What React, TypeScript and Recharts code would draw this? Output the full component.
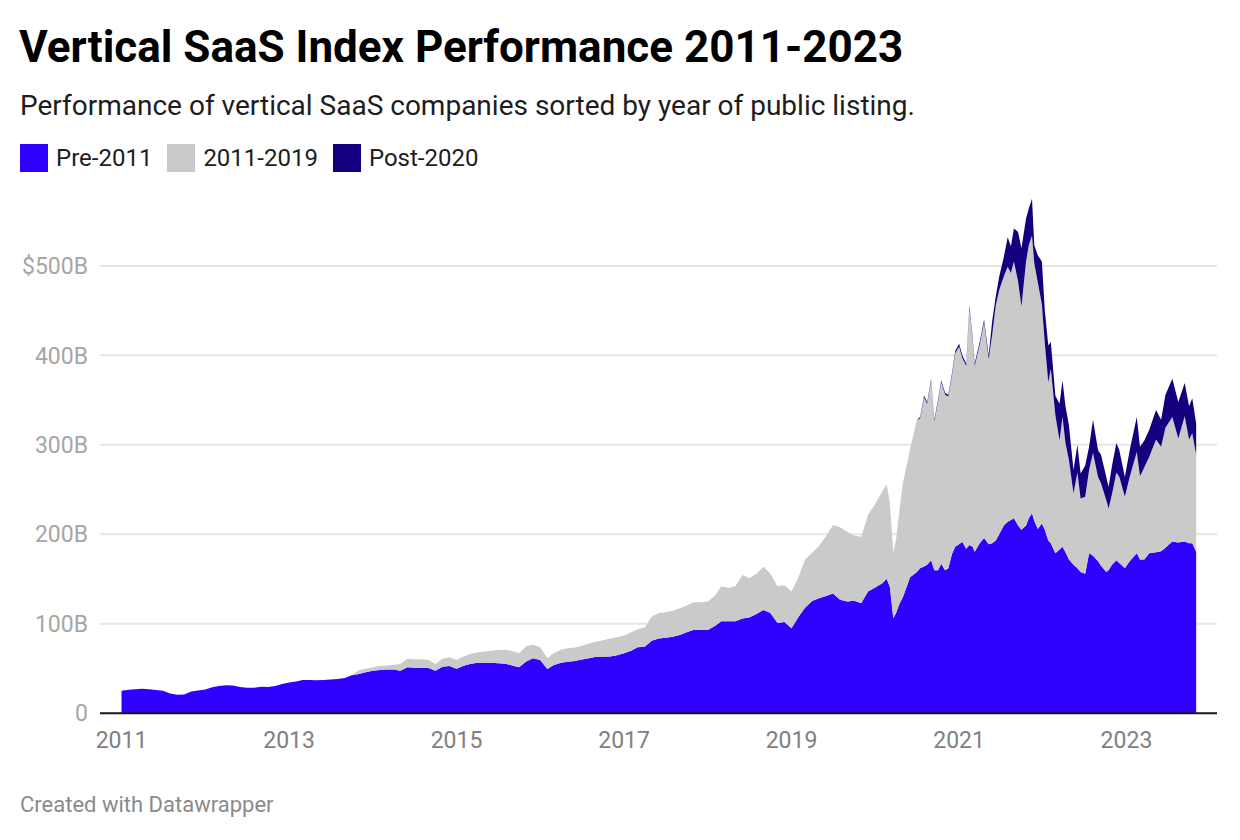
import { AreaChart, Area, XAxis, YAxis, CartesianGrid, ReferenceLine } from 'recharts';

// sample dates
const dates = [
  '2011-01-01', '2011-02-01', '2011-03-01', '2011-04-01', '2011-05-01', '2011-06-01',
  '2011-07-01', '2011-08-01', '2011-09-01', '2011-10-01', '2011-11-01', '2011-12-01',
  '2012-01-01', '2012-02-01', '2012-03-01', '2012-04-01', '2012-05-01', '2012-06-01',
  '2012-07-01', '2012-08-01', '2012-09-01', '2012-10-01', '2012-11-01', '2012-12-01',
  '2013-01-01', '2013-02-01', '2013-03-01', '2013-04-01', '2013-05-01', '2013-06-01',
  '2013-07-01', '2013-08-01', '2013-09-01', '2013-10-01', '2013-11-01', '2013-12-01',
  '2014-01-01', '2014-02-01', '2014-03-01', '2014-04-01', '2014-05-01', '2014-06-01',
  '2014-07-01', '2014-08-01', '2014-09-01', '2014-10-01', '2014-11-01', '2014-12-01',
  '2015-01-01', '2015-02-01', '2015-03-01', '2015-04-01', '2015-05-01', '2015-06-01',
  '2015-07-01', '2015-08-01', '2015-09-01', '2015-10-01', '2015-11-01', '2015-12-01',
  '2016-01-01', '2016-02-01', '2016-03-01', '2016-04-01', '2016-05-01', '2016-06-01',
  '2016-07-01', '2016-08-01', '2016-09-01', '2016-10-01', '2016-11-01', '2016-12-01',
  '2017-01-01', '2017-02-01', '2017-03-01', '2017-04-01', '2017-05-01', '2017-06-01',
  '2017-07-01', '2017-08-01', '2017-09-01', '2017-10-01', '2017-11-01', '2017-12-01',
  '2018-01-01', '2018-02-01', '2018-03-01', '2018-04-01', '2018-05-01', '2018-06-01',
  '2018-07-01', '2018-08-01', '2018-09-01', '2018-10-01', '2018-11-01', '2018-12-01',
  '2019-01-01', '2019-02-01', '2019-03-01', '2019-04-01', '2019-05-01', '2019-06-01',
  '2019-07-01', '2019-08-01', '2019-09-01', '2019-10-01', '2019-11-01', '2019-12-01',
  '2020-01-01', '2020-02-01', '2020-02-20', '2020-03-05', '2020-03-20', '2020-04-01',
  '2020-04-15', '2020-05-01', '2020-05-20', '2020-06-01', '2020-07-01', '2020-07-15',
  '2020-08-01', '2020-08-15', '2020-09-01', '2020-09-15', '2020-10-01', '2020-10-15',
  '2020-11-01', '2020-11-15', '2020-12-01', '2020-12-15', '2021-01-01', '2021-01-15',
  '2021-02-01', '2021-02-15', '2021-03-01', '2021-03-10', '2021-04-01', '2021-04-20',
  '2021-05-10', '2021-05-25', '2021-06-10', '2021-06-25', '2021-07-15', '2021-08-01',
  '2021-08-15', '2021-08-28', '2021-09-15', '2021-09-30', '2021-10-20', '2021-11-01',
  '2021-11-15', '2021-11-25', '2021-12-10', '2021-12-28', '2022-01-10', '2022-01-25',
  '2022-02-05', '2022-02-25', '2022-03-15', '2022-03-28', '2022-04-10', '2022-04-25',
  '2022-05-15', '2022-06-01', '2022-06-15', '2022-07-05', '2022-07-22', '2022-08-08',
  '2022-08-30', '2022-09-12', '2022-10-05', '2022-10-15', '2022-10-30', '2022-11-18',
  '2022-12-01', '2022-12-25', '2023-01-15', '2023-02-15', '2023-03-01', '2023-03-20',
  '2023-04-10', '2023-05-10', '2023-06-01', '2023-06-20', '2023-07-20', '2023-08-15',
  '2023-09-12', '2023-10-01', '2023-10-15', '2023-11-01',
];

// $B, companies listed before 2011
const pre2011 = [
  25.3, 26.2, 26.8, 27.3, 27.0, 26.0, 25.3, 22.0, 20.8, 21.0, 24.3, 25.5,
  26.5, 29.0, 30.5, 31.3, 31.0, 29.5, 28.5, 28.5, 29.7, 29.5, 30.5, 32.8,
  34.3, 35.5, 37.2, 37.2, 37.0, 37.2, 37.8, 38.3, 39.5, 42.5, 44.0, 46.0,
  47.5, 48.5, 49.0, 49.0, 47.6, 51.4, 51.0, 50.6, 50.6, 47.6, 52.0, 52.8,
  49.8, 53.0, 55.0, 56.5, 56.5, 56.5, 55.9, 55.5, 53.5, 51.4, 58.0, 61.4,
  59.6, 49.5, 54.0, 56.5, 57.5, 58.5, 60.0, 61.5, 63.2, 63.2, 63.5, 65.0,
  67.0, 70.0, 73.7, 74.4, 81.0, 83.5, 84.5, 85.5, 87.5, 90.5, 93.5, 93.0,
  93.0, 97.5, 103.0, 103.0, 103.0, 106.0, 107.0, 111.0, 115.4, 112.0, 101.0, 102.0,
  95.0, 108.0, 118.0, 125.5, 128.5, 131.0, 134.0, 127.0, 125.0, 125.8, 123.0, 136.0,
  140.5, 145.3, 150.5, 141.5, 106.1, 112.0, 122.0, 130.0, 143.0, 152.0, 158.0, 162.0,
  164.0, 166.0, 171.0, 160.0, 160.0, 167.0, 160.0, 162.0, 178.0, 186.0, 189.0, 191.7,
  184.0, 188.0, 186.0, 180.6, 190.0, 196.0, 189.0, 190.0, 193.0, 200.0, 210.0, 214.0,
  216.0, 218.0, 210.0, 205.0, 210.0, 218.0, 223.5, 215.0, 206.0, 212.0, 205.0, 193.0,
  190.0, 179.0, 183.0, 186.0, 180.0, 172.0, 166.0, 162.0, 158.0, 156.0, 179.0, 176.0,
  170.0, 165.0, 158.0, 160.0, 166.0, 171.0, 168.0, 162.0, 170.0, 179.0, 172.0, 172.0,
  179.0, 180.0, 181.0, 185.0, 192.0, 191.0, 192.0, 190.0, 190.0, 180.6,
];

// $B, companies listed 2011-2019
const listed2011to2019 = [
  0, 0, 0, 0, 0, 0, 0, 0, 0, 0, 0, 0,
  0, 0, 0, 0, 0, 0, 0, 0, 0, 0, 0, 0,
  0, 0, 0, 0, 0, 0, 0, 0, 0, 0, 4.0, 3.8,
  4.0, 4.4, 4.4, 5.0, 7.5, 9.6, 9.5, 9.7, 9.0, 7.4, 9.0, 9.7,
  9.8, 10.5, 11.3, 11.5, 12.5, 13.5, 14.8, 15.5, 16.0, 15.6, 17.0, 15.2,
  14.1, 12.0, 13.5, 14.5, 15.3, 15.0, 15.5, 16.5, 16.8, 18.3, 20.0, 20.0,
  20.0, 20.5, 20.3, 21.6, 27.0, 28.5, 28.5, 29.1, 29.8, 30.0, 30.5, 31.0,
  32.0, 34.0, 39.0, 37.0, 39.0, 48.5, 44.0, 45.0, 48.4, 44.0, 41.0, 41.0,
  41.0, 44.6, 54.0, 54.0, 58.5, 67.0, 76.4, 81.0, 78.0, 73.0, 74.0, 86.0,
  93.5, 102.7, 105.5, 93.5, 73.0, 82.0, 103.0, 128.0, 137.0, 143.0, 170.0, 167.5,
  189.0, 180.0, 201.0, 166.0, 188.0, 203.0, 196.0, 192.0, 199.5, 216.5, 221.0, 205.3,
  204.0, 265.0, 231.0, 207.4, 222.0, 241.0, 207.0, 232.5, 263.0, 273.0, 278.0, 285.0,
  276.0, 286.9, 273.0, 249.6, 295.0, 305.0, 310.5, 288.0, 276.0, 245.0, 208.0, 177.0,
  195.0, 154.0, 122.0, 145.0, 122.0, 111.0, 80.0, 107.0, 82.0, 86.0, 93.0, 115.0,
  94.0, 92.0, 80.0, 69.0, 79.0, 98.0, 96.0, 80.0, 94.0, 113.0, 93.0, 103.0,
  107.5, 126.0, 117.0, 134.0, 139.0, 116.0, 140.0, 116.0, 123.0, 108.4,
];

// $B, companies listed 2020 and later
const post2020 = [
  0, 0, 0, 0, 0, 0, 0, 0, 0, 0, 0, 0,
  0, 0, 0, 0, 0, 0, 0, 0, 0, 0, 0, 0,
  0, 0, 0, 0, 0, 0, 0, 0, 0, 0, 0, 0,
  0, 0, 0, 0, 0, 0, 0, 0, 0, 0, 0, 0,
  0, 0, 0, 0, 0, 0, 0, 0, 0, 0, 0, 0,
  0, 0, 0, 0, 0, 0, 0, 0, 0, 0, 0, 0,
  0, 0, 0, 0, 0, 0, 0, 0, 0, 0, 0, 0,
  0, 0, 0, 0, 0, 0, 0, 0, 0, 0, 0, 0,
  0, 0, 0, 0, 0, 0, 0, 0, 0, 0, 0, 0,
  0, 0, 0, 0, 0, 0, 0, 0, 0, 0, 0, 1.5,
  2.0, 2.0, 2.0, 2.0, 2.0, 2.0, 2.0, 2.0, 2.5, 2.5, 3.0, 3.0,
  3.0, 3.0, 3.0, 3.0, 3.0, 3.0, 4.0, 15.0, 10.0, 15.0, 22.0, 33.0,
  30.0, 37.0, 55.0, 65.0, 48.0, 41.0, 41.0, 20.0, 30.0, 48.0, 37.0, 41.0,
  30.0, 22.0, 41.0, 41.0, 41.0, 39.0, 26.0, 31.0, 28.0, 35.0, 26.0, 37.0,
  30.0, 32.0, 26.0, 24.0, 32.0, 33.0, 30.0, 22.0, 30.0, 39.0, 33.0, 30.0,
  30.0, 33.0, 30.0, 37.0, 43.0, 41.0, 37.0, 37.0, 39.0, 35.0,
];

const yTicks = [0, 100, 200, 300, 400, 500];
const xTickYears = [2011, 2013, 2015, 2017, 2019, 2021, 2023];

const series = [
  { key: 'pre', name: 'Pre-2011', color: '#3000ff' },
  { key: 'mid', name: '2011-2019', color: '#cacaca' },
  { key: 'post', name: 'Post-2020', color: '#14007f' },
];

const data = dates.map((d, i) => ({
  t: Date.parse(d),
  pre: pre2011[i],
  mid: listed2011to2019[i],
  post: post2020[i],
}));

const yearMs = 365.25 * 864e5;
const start2011 = Date.UTC(2011, 0, 1);
const xDomain = [start2011 - 0.257 * yearMs, start2011 + 13.081 * yearMs];
const xTicks = xTickYears.map((y) => Date.UTC(y, 0, 1));

const font = 'Roboto, "Noto Sans", sans-serif';

const App = () => {
  return (
    <div
      style={{
        position: 'absolute',
        left: 0,
        top: 0,
        width: 1240,
        height: 840,
        background: '#fff',
        fontFamily: font,
        overflow: 'hidden',
      }}
    >
      <div
        style={{
          position: 'absolute',
          left: 19,
          top: 25,
          fontSize: 44,
          lineHeight: '44px',
          fontWeight: 700,
          color: '#000',
          whiteSpace: 'nowrap',
        }}
      >
        Vertical SaaS Index Performance 2011-2023
      </div>
      <div
        style={{
          position: 'absolute',
          left: 20,
          top: 92,
          fontSize: 28,
          lineHeight: '28px',
          color: '#1d1d1d',
          whiteSpace: 'nowrap',
        }}
      >
        Performance of vertical SaaS companies sorted by year of public listing.
      </div>
      <div style={{ position: 'absolute', left: 20, top: 144, display: 'flex', alignItems: 'center' }}>
        {series.map((s) => (
          <div key={s.key} style={{ display: 'flex', alignItems: 'center', marginRight: 15 }}>
            <div style={{ width: 28, height: 28, background: s.color, marginRight: 8 }} />
            <span style={{ fontSize: 24, lineHeight: '28px', color: '#1d1d1d' }}>{s.name}</span>
          </div>
        ))}
      </div>

      <div style={{ position: 'absolute', left: 0, top: 0 }}>
        <AreaChart
          width={1240}
          height={840}
          data={data}
          margin={{ top: 194.3, right: 23, left: 0, bottom: 96.7 }}
        >
          <CartesianGrid vertical={false} syncWithTicks stroke="#e6e6e6" strokeWidth={2} />
          <XAxis
            dataKey="t"
            type="number"
            scale="linear"
            domain={xDomain}
            ticks={xTicks}
            allowDataOverflow
            height={30}
            axisLine={false}
            tickLine={false}
            tickSize={0}
            tickMargin={18}
            tick={{ fontSize: 23, fill: '#808080', fontFamily: font }}
            tickFormatter={(v) => String(new Date(v).getUTCFullYear())}
          />
          <YAxis
            type="number"
            domain={[0, 580]}
            ticks={yTicks}
            width={100}
            axisLine={false}
            tickLine={false}
            tickSize={0}
            tickMargin={12}
            tick={{ fontSize: 23, fill: '#a6a6a6', fontFamily: font }}
            tickFormatter={(v) => (v === 0 ? '0' : v === 500 ? '$500B' : `${v}B`)}
          />
          {series.map((s) => (
            <Area
              key={s.key}
              type="linear"
              dataKey={s.key}
              name={s.name}
              stackId="1"
              stroke="none"
              fill={s.color}
              fillOpacity={1}
              isAnimationActive={false}
              dot={false}
              activeDot={false}
            />
          ))}
          <ReferenceLine y={0} stroke="#1a1a1a" strokeWidth={2} />
        </AreaChart>
      </div>

      <div
        style={{
          position: 'absolute',
          left: 20,
          top: 794,
          fontSize: 22,
          lineHeight: '22px',
          color: '#8a8a8a',
          whiteSpace: 'nowrap',
        }}
      >
        Created with Datawrapper
      </div>
    </div>
  );
};

export default App;
